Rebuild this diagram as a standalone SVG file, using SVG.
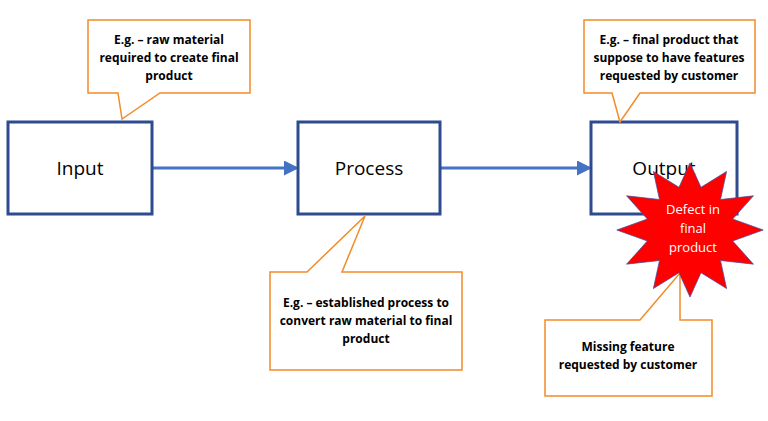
<svg xmlns="http://www.w3.org/2000/svg" width="768" height="421" viewBox="0 0 768 421">
<style>
.box{fill:#fff;stroke:#2F4B8F;stroke-width:3}
.lbl{font-family:"Open Sans","Liberation Sans",sans-serif;font-size:19px;fill:#000;text-anchor:middle}
.co{fill:#fff;stroke:#F28C28;stroke-width:1.5}
.ct{font-family:"Open Sans","Liberation Sans",sans-serif;font-size:12px;font-weight:bold;fill:#000;text-anchor:middle}
.conn{stroke:#4472C4;stroke-width:3;fill:none}
.dt{font-family:"Open Sans","Liberation Sans",sans-serif;font-size:13px;fill:#fff;text-anchor:middle}
</style>
<defs><marker id="ah" markerWidth="5" markerHeight="5" refX="4" refY="2.5" orient="auto" markerUnits="strokeWidth"><path d="M0,0L5,2.5L0,5z" fill="#4472C4"/></marker></defs>
<rect width="768" height="421" fill="#fff"/>
<g id="connectors">
<line class="conn" x1="152" y1="168" x2="296" y2="168" marker-end="url(#ah)"/>
<line class="conn" x1="440" y1="168" x2="589" y2="168" marker-end="url(#ah)"/>
</g>
<g id="input"><rect class="box" x="8" y="122" width="144" height="92"/><text class="lbl" x="80" y="175">Input</text></g>
<g id="process"><rect class="box" x="298" y="122" width="142" height="92"/><text class="lbl" x="369" y="175">Process</text></g>
<g id="output"><rect class="box" x="591" y="122" width="146" height="92"/><text class="lbl" x="664" y="175">Output</text></g>
<g id="callout1"><path class="co" d="M88,20H250V93H160L122,119L118,93H88Z"/>
<text class="ct" x="169" y="44">E.g. – raw material</text><text class="ct" x="169" y="62">required to create final</text><text class="ct" x="169" y="80">product</text></g>
<g id="callout2"><path class="co" d="M270,272H307L365,216L342,272H462V370H270Z"/>
<text class="ct" x="366" y="307">E.g. – established process to</text><text class="ct" x="366" y="325">convert raw material to final</text><text class="ct" x="366" y="343">product</text></g>
<g id="callout3"><path class="co" d="M584,20H755V93H640L620,122L612,93H584Z"/>
<text class="ct" x="669" y="44">E.g. – final product that</text><text class="ct" x="669" y="62">suppose to have features</text><text class="ct" x="669" y="80">requested by customer</text></g>
<g id="callout4"><path class="co" d="M545,320H640L680,273L680,320H712V396H545Z"/>
<text class="ct" x="628" y="351">Missing feature</text><text class="ct" x="628" y="369">requested by customer</text></g>
<g id="defect"><polygon transform="translate(690,230) scale(1.22) translate(-688,-232)" fill="#FF0000" stroke="#3F4FA0" stroke-width="0.6" points="748,232 723,241 740,260 713,257 718,280 697,267 688,287 679,267 658,280 663,257 636,260 653,241 628,232 653,223 636,204 663,207 658,184 679,197 688,177 697,197 718,184 713,207 740,204 723,223"/>
<text class="dt" x="693" y="214">Defect in</text>
<text class="dt" x="693" y="233">final</text>
<text class="dt" x="693" y="252">product</text></g>
</svg>
